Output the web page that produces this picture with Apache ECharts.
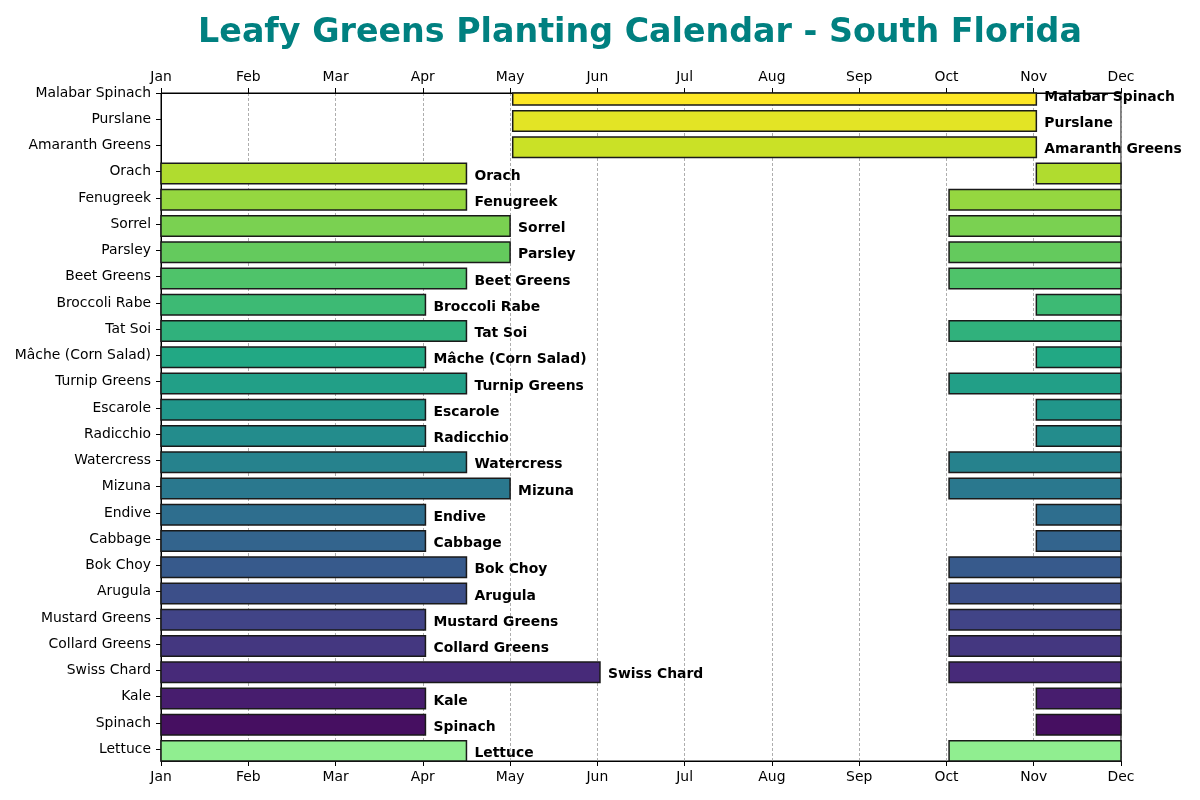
<!DOCTYPE html>
<html>
<head>
<meta charset="utf-8">
<title>Leafy Greens Planting Calendar - South Florida</title>
<script src="https://cdn.jsdelivr.net/npm/echarts@6/dist/echarts.min.js"></script>
<style>
  html, body { margin: 0; padding: 0; background: #fff; }
  #chart { width: 1200px; height: 800px; }
</style>
</head>
<body>
<div id="chart"></div>
<script>
// months on x (0 = Jan ... 11 = Dec)
const months = ['Jan', 'Feb', 'Mar', 'Apr', 'May', 'Jun', 'Jul', 'Aug', 'Sep', 'Oct', 'Nov', 'Dec'];

// crops from bottom (index 0) to top
const crops = ['Lettuce', 'Spinach', 'Kale', 'Swiss Chard', 'Collard Greens', 'Mustard Greens',
  'Arugula', 'Bok Choy', 'Cabbage', 'Endive', 'Mizuna', 'Watercress', 'Radicchio', 'Escarole',
  'Turnip Greens', 'Mâche (Corn Salad)', 'Tat Soi', 'Broccoli Rabe', 'Beet Greens', 'Parsley',
  'Sorrel', 'Fenugreek', 'Orach', 'Amaranth Greens', 'Purslane', 'Malabar Spinach'];

// first planting window (month position)
const startA = [0, 0, 0, 0, 0, 0, 0, 0, 0, 0, 0, 0, 0, 0, 0, 0, 0, 0, 0, 0, 0, 0, 0, 4.03, 4.03, 4.03];
const endA = [3.5, 3.03, 3.03, 5.03, 3.03, 3.03, 3.5, 3.5, 3.03, 3.03, 4.0, 3.5, 3.03, 3.03,
  3.5, 3.03, 3.5, 3.03, 3.5, 4.0, 4.0, 3.5, 3.5, 10.03, 10.03, 10.03];

// second (autumn) window, runs past Dec edge
const startB = [9.03, 10.03, 10.03, 9.03, 9.03, 9.03, 9.03, 9.03, 10.03, 10.03, 9.03, 9.03, 10.03,
  10.03, 9.03, 10.03, 9.03, 10.03, 9.03, 9.03, 9.03, 9.03, 10.03, null, null, null];
const endB = 12;

// viridis anchors for bar colours
const viridis = ['#440154', '#482475', '#414487', '#355f8d', '#2a788e', '#21918c',
  '#22a884', '#44bf70', '#7ad151', '#bddf26', '#fde725'];

function viridisAt(t) {
  const p = t * (viridis.length - 1);
  const i = Math.min(Math.floor(p), viridis.length - 2);
  const f = p - i;
  const a = echarts.color.parse(viridis[i]);
  const b = echarts.color.parse(viridis[i + 1]);
  const c = [0, 1, 2].map((k) => Math.round(a[k] + (b[k] - a[k]) * f));
  return 'rgb(' + c.join(',') + ')';
}

function barColor(idx) {
  if (idx === 0) return '#90ee90';
  return viridisAt(idx / (crops.length - 1));
}

const segData = [];
crops.forEach((c, i) => {
  segData.push([startA[i], endA[i], i]);
  if (startB[i] !== null) segData.push([startB[i], endB, i]);
});
const labelData = crops.map((c, i) => [endA[i], i, c]);

const yOff = -0.07;
const fs = 13.9;
const chart = echarts.init(document.getElementById('chart'));

const monthAxis = (pos) => ({
  type: 'value',
  position: pos,
  min: 0,
  max: 11,
  interval: 1,
  axisLine: { show: true, onZero: false, lineStyle: { color: '#000', width: 1 } },
  axisTick: { show: true, length: 5, lineStyle: { color: '#000' } },
  axisLabel: {
    color: '#000',
    fontSize: fs,
    fontFamily: 'DejaVu Sans',
    margin: 9,
    formatter: (v) => months[v],
  },
  splitLine: pos === 'bottom'
    ? { show: true, lineStyle: { color: '#999', type: [3, 2], width: 0.8 } }
    : { show: false },
});

const option = {
  backgroundColor: '#fff',
  animation: false,
  title: {
    text: 'Leafy Greens Planting Calendar - South Florida',
    left: 635,
    top: 12,
    textAlign: 'center',
    textStyle: {
      color: '#008080',
      fontSize: 33.3,
      fontWeight: 'bold',
      fontFamily: 'DejaVu Sans',
    },
  },
  grid: {
    left: 161,
    right: 79,
    top: 93,
    bottom: 39,
    show: true,
    borderColor: '#000',
    borderWidth: 1,
  },
  xAxis: [monthAxis('bottom'), monthAxis('top')],
  yAxis: {
    type: 'value',
    min: -0.45,
    max: 25,
    splitLine: { show: false },
    axisLine: { show: true, onZero: false, lineStyle: { color: '#000' } },
    axisTick: {
      show: true,
      length: 5,
      customValues: crops.map((c, i) => i),
      lineStyle: { color: '#000' },
    },
    axisLabel: {
      color: '#000',
      fontSize: fs,
      fontFamily: 'DejaVu Sans',
      margin: 10,
      customValues: crops.map((c, i) => i),
      formatter: (v) => crops[Math.round(v)],
    },
  },
  series: [
    {
      type: 'custom',
      xAxisIndex: 0,
      data: segData,
      renderItem: (params, api) => {
        const s = api.value(0);
        const e = api.value(1);
        const y = api.value(2);
        const p0 = api.coord([s, y + yOff]);
        const p1 = api.coord([e, y + yOff]);
        const h = api.size([0, 0.78])[1];
        const cs = params.coordSys;
        const shape = echarts.graphic.clipRectByRect(
          { x: p0[0], y: p0[1] - h / 2, width: p1[0] - p0[0], height: h },
          { x: cs.x, y: cs.y, width: cs.width, height: cs.height }
        );
        if (!shape) return;
        return {
          type: 'rect',
          shape: shape,
          style: { fill: barColor(y), stroke: '#1a1a1a', lineWidth: 1.5 },
        };
      },
    },
    {
      type: 'custom',
      xAxisIndex: 0,
      data: labelData,
      z: 5,
      renderItem: (params, api) => {
        const p = api.coord([api.value(0), api.value(1) + yOff]);
        return {
          type: 'text',
          x: p[0] + 8,
          y: p[1] + 2.5,
          style: {
            text: labelData[params.dataIndex][2],
            fill: '#000',
            font: 'bold ' + fs + 'px "DejaVu Sans"',
            verticalAlign: 'middle',
            align: 'left',
          },
        };
      },
    },
  ],
};

chart.setOption(option);
</script>
</body>
</html>
